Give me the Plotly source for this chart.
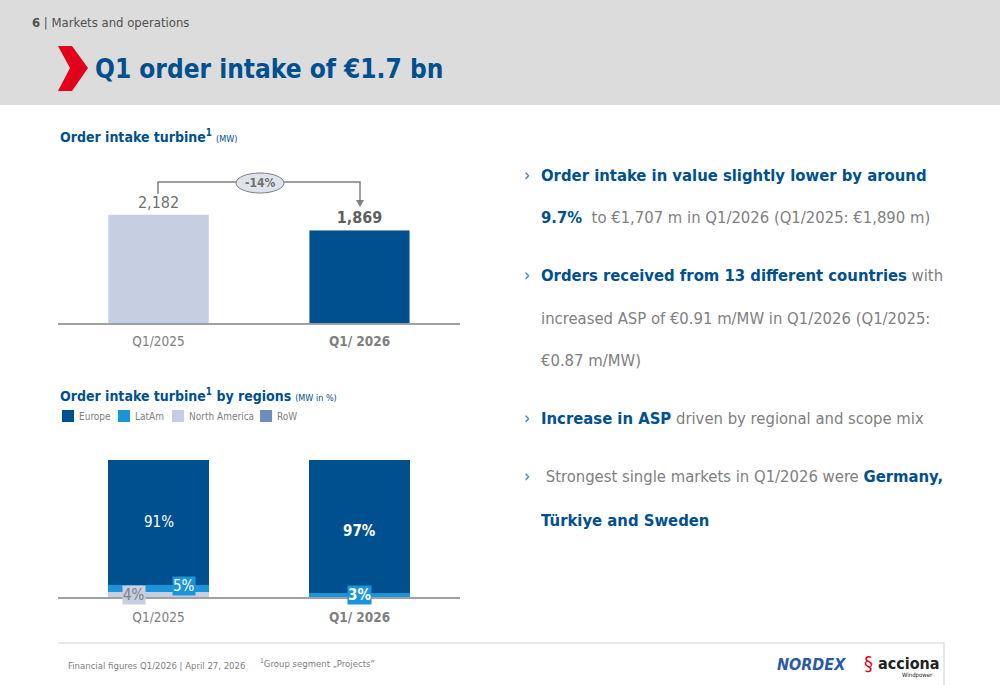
import plotly.graph_objects as go

# top chart: order intake turbine (MW)
periods = ["Q1/2025", "Q1/ 2026"]
intake_mw = [2182, 1869]
intake_labels = ["2,182", "<b>1,869</b>"]
change_label = "-14%"

# bottom chart: share by region (MW in %)
regions = ["Europe", "LatAm", "North America", "RoW"]
share_europe = [91, 97]
share_latam = [5, 3]
share_na = [4, 0]
share_row = [0, 0]

BLUE = "#00508f"
LATAM = "#1b95d9"
NA = "#c5cfe1"
ROW = "#6f8cbf"
GREY = "#808080"
FONT = "Liberation Sans Narrow, DejaVu Sans Condensed, Roboto"

W, H = 1000, 685


def px(x):
    return x / W


def py(y):
    return 1 - y / H


fig = go.Figure()

# top bars
fig.add_trace(go.Bar(
    x=periods, y=intake_mw, marker_color=[NA, BLUE], width=0.5,
    text=intake_labels, textposition="outside", cliponaxis=False,
    textfont=dict(size=16, color=["#707070", "#606060"], family=FONT),
    xaxis="x", yaxis="y", showlegend=False, hoverinfo="skip"))

# bottom stacked bars
for name, vals, col in [("North America", share_na, NA), ("LatAm", share_latam, LATAM),
                        ("Europe", share_europe, BLUE), ("RoW", share_row, ROW)]:
    fig.add_trace(go.Bar(x=periods, y=vals, name=name, marker_color=col, width=0.5,
                         marker_line_width=0, xaxis="x2", yaxis="y2",
                         showlegend=False, hoverinfo="skip"))

fig.update_layout(
    width=W, height=H, margin=dict(l=0, r=0, t=0, b=0),
    paper_bgcolor="white", plot_bgcolor="white", barmode="stack",
    font=dict(family=FONT, color=GREY),
    xaxis=dict(domain=[px(58), px(460)], anchor="y", showline=True, linecolor="#a0a0a0",
               linewidth=1.5, ticks="", showgrid=False, tickfont=dict(size=13.5, color=GREY),
               ticklabelstandoff=5, tickvals=periods,
               ticktext=["Q1/2025", "<b>Q1/ 2026</b>"]),
    yaxis=dict(domain=[py(323), py(184.4)], range=[0, 2800], visible=False),
    xaxis2=dict(domain=[px(58), px(460)], anchor="y2", showline=True, linecolor="#a0a0a0",
                linewidth=1.5, ticks="", showgrid=False, tickfont=dict(size=13.5, color=GREY),
                ticklabelstandoff=7, tickvals=periods, ticktext=["Q1/2025", "<b>Q1/ 2026</b>"]),
    yaxis2=dict(domain=[py(597), py(460)], range=[0, 100], visible=False),
)

shapes = [
    # header band
    dict(type="rect", xref="paper", yref="paper", x0=0, x1=1, y0=py(105), y1=1,
         fillcolor="#dcdcdc", line_width=0, layer="below"),
    dict(type="path", xref="paper", yref="paper",
         path=f"M {px(58)} {py(46)} L {px(72)} {py(46)} L {px(88)} {py(68)} L {px(72)} {py(91)} "
              f"L {px(58)} {py(91)} L {px(70)} {py(68)} Z",
         fillcolor="#e3001b", line_width=0),
    # bracket
    dict(type="path", xref="paper", yref="paper",
         path=f"M {px(158)} {py(194)} L {px(158)} {py(182)} L {px(360)} {py(182)} L {px(360)} {py(201)}",
         line=dict(color=GREY, width=1.5)),
    dict(type="path", xref="paper", yref="paper",
         path=f"M {px(356)} {py(200)} L {px(364)} {py(200)} L {px(360)} {py(207)} Z",
         fillcolor=GREY, line_width=0),
    dict(type="circle", xref="paper", yref="paper", x0=px(236), x1=px(284), y0=py(193), y1=py(173),
         fillcolor="#dfe4ec", line=dict(color=GREY, width=1)),
    # footer lines
    dict(type="line", xref="paper", yref="paper", x0=px(58), x1=px(944), y0=py(643), y1=py(643),
         line=dict(color="#c8d2e0", width=1)),
    dict(type="line", xref="paper", yref="paper", x0=px(944), x1=px(944), y0=py(643), y1=0,
         line=dict(color="#c8d2e0", width=1)),
]

# legend squares
leg_x = [62, 118, 172, 260]
leg_cols = [BLUE, LATAM, NA, ROW]
for x, c in zip(leg_x, leg_cols):
    shapes.append(dict(type="rect", xref="paper", yref="paper", x0=px(x), x1=px(x + 12),
                       y0=py(422), y1=py(410), fillcolor=c, line_width=0))
fig.update_layout(shapes=shapes)

ann = []


def text(x, y, s, size, color=GREY, xanchor="left", **kw):
    ann.append(dict(xref="paper", yref="paper", x=px(x), y=py(y), text=s, showarrow=False,
                    xanchor=xanchor, yanchor="middle", font=dict(size=size, color=color, family=FONT), **kw))


text(30, 22, "<b>6</b> | Markets and operations", 13, "#505050")
text(93, 69, "<b>Q1 order intake of €1.7 bn</b>", 26, BLUE)
text(58, 136, "<b>Order intake turbine<sup>1</sup></b> <span style='font-size:9px'>(MW)</span>", 14, BLUE)
text(58, 395, "<b>Order intake turbine<sup>1</sup> by regions</b> <span style='font-size:9px'>(MW in %)</span>", 14, BLUE)
text(260, 183, "<b>" + change_label + "</b>", 12, "#707070", xanchor="center")
for x, r in zip(leg_x, regions):
    text(x + 15, 416, r, 10, GREY)

# bottom chart labels
ann.append(dict(xref="x2", yref="y2", x=periods[0], y=share_na[0] + share_latam[0] + share_europe[0] / 2,
                text=f"{share_europe[0]}%", showarrow=False, font=dict(size=15, color="white", family=FONT)))
ann.append(dict(xref="x2", yref="y2", x=periods[1], y=share_latam[1] + share_europe[1] / 2 - 3,
                text=f"<b>{share_europe[1]}%</b>", showarrow=False, font=dict(size=15, color="white", family=FONT)))
ann.append(dict(xref="x2", yref="y2", x=periods[0], xshift=-25, y=share_na[0] / 2, yshift=-1,
                text=f"{share_na[0]}%", showarrow=False, bgcolor=NA, borderpad=0,
                font=dict(size=15, color=GREY, family=FONT)))
ann.append(dict(xref="x2", yref="y2", x=periods[0], xshift=25, y=share_na[0] + share_latam[0] / 2, yshift=2,
                text=f"{share_latam[0]}%", showarrow=False, bgcolor=LATAM, borderpad=0,
                font=dict(size=15, color="white", family=FONT)))
ann.append(dict(xref="x2", yref="y2", x=periods[1], y=share_latam[1] / 2,
                text=f"<b>{share_latam[1]}%</b>", showarrow=False, bgcolor=LATAM, borderpad=0,
                font=dict(size=15, color="white", family=FONT)))

# right side bullets
bullets = [
    (175, "<b>Order intake in value slightly lower by around</b>"),
    (218, None, "<span style='color:%s'><b>9.7%%</b></span>  to €1,707 m in Q1/2026 (Q1/2025: €1,890 m)" % BLUE),
    (275, "<b>Orders received from 13 different countries</b> <span style='color:%s'>with</span>" % GREY),
    (318, None, "increased ASP of €0.91 m/MW in Q1/2026 (Q1/2025:"),
    (360, None, "€0.87 m/MW)"),
    (418, "<b>Increase in ASP</b> <span style='color:%s'>driven by regional and scope mix</span>" % GREY),
    (476, None, " Strongest single markets in Q1/2026 were <span style='color:%s'><b>Germany,</b></span>" % BLUE),
    (520, None, "<span style='color:%s'><b>Türkiye and Sweden</b></span>" % BLUE),
]
for b in bullets:
    y = b[0]
    if len(b) == 2:
        text(522, y, "›", 17, "#3b78b5")
        text(539, y, b[1], 16.5, BLUE)
    else:
        if y == 476:
            text(522, y, "›", 17, "#3b78b5")
        text(539, y, b[2], 16.5, GREY)

text(66, 665, "Financial figures Q1/2026 | April 27, 2026", 9.5, GREY)
text(258, 663, "<sup>1</sup>Group segment „Projects“", 9.5, GREY)
text(848, 664, "<b><i>NORDEX</i></b>", 16, "#2a5aa8", xanchor="right")
text(876, 663, "<b>acciona</b>", 16, "#222222")
text(900, 675, "Windpower", 6, "#222222")
text(868, 663, "§", 20, "#e3001b", xanchor="center")
fig.update_layout(annotations=ann)

fig.write_html("out.html", config={"displayModeBar": False},
               post_script="document.body.style.margin='0';")
